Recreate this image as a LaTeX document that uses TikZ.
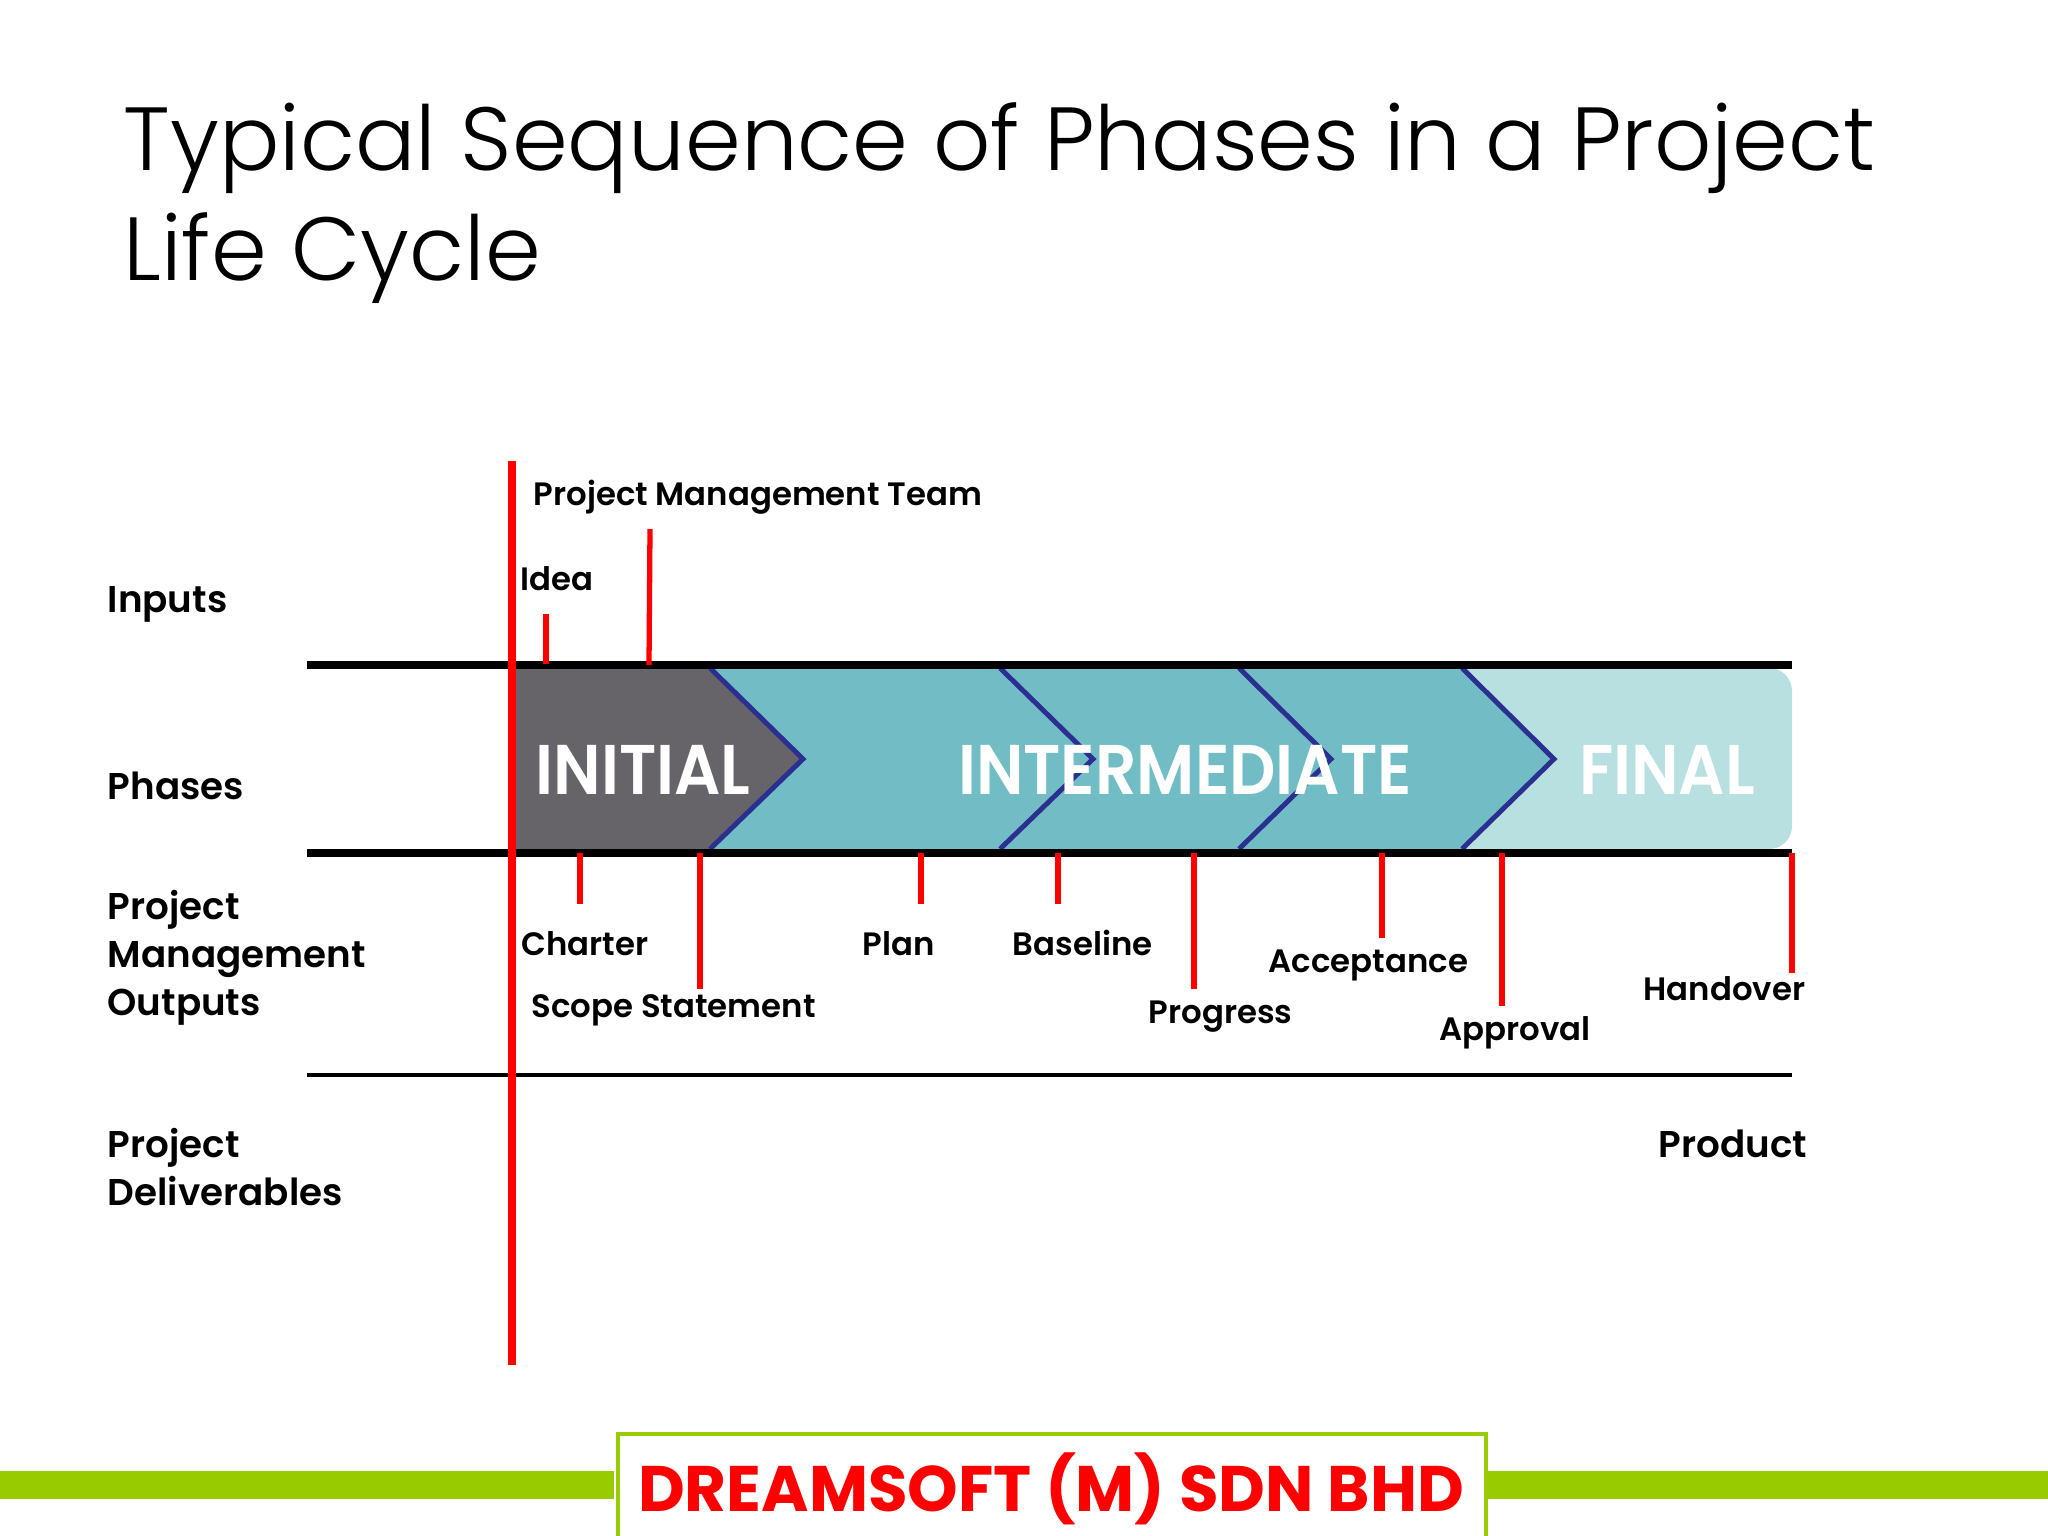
\documentclass[tikz,border=0pt]{standalone}
\usepackage{fontspec}
\setmainfont{Poppins}
\newfontfamily\titlefont{Poppins Light}
\newfontfamily\labelfont{Poppins SemiBold}
\newfontfamily\phasefont[FakeStretch=0.92]{Poppins SemiBold}
\usetikzlibrary{positioning}
\definecolor{phasegray}{HTML}{666468}
\definecolor{phaseteal}{HTML}{72BDC5}
\definecolor{phaselight}{HTML}{B8E0E1}
\definecolor{chevronblue}{HTML}{2B2F8F}
\definecolor{barred}{HTML}{FF0000}
\definecolor{bargreen}{HTML}{99CC00}
\tikzset{
 rowlabel/.style={anchor=base west,inner sep=0pt,align=left,font=\labelfont\fontsize{10.6}{13.6}\selectfont},
 milestone/.style={anchor=base west,inner sep=0pt,font=\labelfont\fontsize{9.2}{12}\selectfont},
 phasename/.style={anchor=base,inner sep=0pt,text=white,font=\phasefont\fontsize{20}{24}\selectfont},
 tick/.style={barred,line width=1.5pt},
 chevron/.style={chevronblue,line width=1.4pt},
 rail/.style={black,line width=2.3pt}
}
\begin{document}
\begin{tikzpicture}[x=0.01cm,y=-0.01cm]
 \useasboundingbox (0,0) rectangle (2048,1536);
 % title
 \node[anchor=base west,inner sep=0pt,align=left,font=\titlefont\fontsize{25.5}{31.2}\selectfont] (title) at (123,280) {Typical Sequence of Phases in a Project\\Life Cycle};
 % phase band
 \fill[phaselight,rounded corners=6.5pt] (1400,668) rectangle (1792,849);
 \fill[phaselight] (1400,668) rectangle (1600,849);
 \fill[phaseteal] (700,668)--(1462,668)--(1555,759)--(1462,849)--(700,849)--cycle;
 \fill[phasegray] (512,668)--(710,668)--(804,759)--(710,849)--(512,849)--cycle;
 \draw[chevron] (710,668)--(803,759)--(710,849);
 \draw[chevron] (1000,668)--(1093,759)--(1000,849);
 \draw[chevron] (1239,668)--(1331,759)--(1239,849);
 \draw[chevron] (1462,668)--(1554,759)--(1462,849);
 \node[phasename] (initial) at (643,794) {INITIAL};
 \node[phasename] (intermediate) at (1185,794) {INTERMEDIATE};
 \node[phasename] (final) at (1667,794) {FINAL};
 % rails
 \coordinate (railtopL) at (307,665);
 \coordinate (railtopR) at (1792,665);
 \coordinate (railmidL) at (307,853);
 \coordinate (railmidR) at (1792,853);
 \coordinate (railbotL) at (307,1075);
 \coordinate (railbotR) at (1792,1075);
 \draw[rail] (railtopL)--(railtopR);
 \draw[rail] (railmidL)--(railmidR);
 \draw[black,line width=0.9pt] (railbotL)--(railbotR);
 % row labels
 \node[rowlabel] (inputs) at (107,612) {Inputs};
 \node[rowlabel] (phases) at (107,799) {Phases};
 \node[rowlabel] (outputs) at (107,1015) {Project\\Management\\Outputs};
 \node[rowlabel] (deliverables) at (107,1205) {Project\\Deliverables};
 % milestones
 \node[milestone] (team) at (533,505) {Project Management Team};
 \node[milestone] (idea) at (520,590) {Idea};
 \node[milestone] (charter) at (521,955) {Charter};
 \node[milestone] (scope) at (531,1017) {Scope Statement};
 \node[milestone] (plan) at (862,955) {Plan};
 \node[milestone] (baseline) at (1012,955) {Baseline};
 \node[milestone] (progress) at (1148,1023) {Progress};
 \node[milestone] (acceptance) at (1268,972) {Acceptance};
 \node[milestone] (approval) at (1439,1040) {Approval};
 \node[milestone] (handover) at (1643,1000) {Handover};
 \node[rowlabel] (product) at (1658,1157) {Product};
 % ticks
 \coordinate (start top) at (512,461);
 \coordinate (start bot) at (512,1365);
 \draw[barred,line width=2pt] (start top)--(start bot);
 \coordinate (idea a) at (546,614);
 \coordinate (idea b) at (546,664);
 \draw[tick] (idea a)--(idea b);
 \coordinate (team a) at (650,529);
 \coordinate (team b) at (649,665);
 \draw[tick] (team a)--(team b);
 \coordinate (charter a) at (580,853);
 \coordinate (charter b) at (580,904);
 \draw[tick] (charter a)--(charter b);
 \coordinate (scope a) at (700,853);
 \coordinate (scope b) at (700,989);
 \draw[tick] (scope a)--(scope b);
 \coordinate (plan a) at (921,853);
 \coordinate (plan b) at (921,904);
 \draw[tick] (plan a)--(plan b);
 \coordinate (baseline a) at (1058,853);
 \coordinate (baseline b) at (1058,904);
 \draw[tick] (baseline a)--(baseline b);
 \coordinate (progress a) at (1194,853);
 \coordinate (progress b) at (1194,989);
 \draw[tick] (progress a)--(progress b);
 \coordinate (acceptance a) at (1382,853);
 \coordinate (acceptance b) at (1382,938);
 \draw[tick] (acceptance a)--(acceptance b);
 \coordinate (approval a) at (1502,853);
 \coordinate (approval b) at (1502,1006);
 \draw[tick] (approval a)--(approval b);
 \coordinate (handover a) at (1792,853);
 \coordinate (handover b) at (1792,973);
 \draw[tick] (handover a)--(handover b);
 % footer
 \fill[bargreen] (0,1471) rectangle (614,1499);
 \fill[bargreen] (1488,1471) rectangle (2048,1499);
 \draw[bargreen,line width=0.9pt] (618,1536)--(618,1434)--(1486,1434)--(1486,1536);
 \node[anchor=base,inner sep=0pt,text=barred,font=\bfseries\fontsize{18.3}{23}\selectfont] (company) at (1051,1511) {DREAMSOFT (M) SDN BHD};
\end{tikzpicture}
\end{document}
